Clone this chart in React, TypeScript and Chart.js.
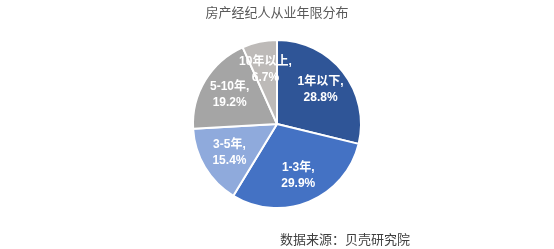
import React, { useEffect, useRef } from "react";
import { Chart, registerables } from "chart.js";

Chart.register(...registerables);

const categories = ["1年以下", "1-3年", "3-5年", "5-10年", "10年以上"];
const values = [28.8, 29.9, 15.4, 19.2, 6.7];
const colors = ["#2F5597", "#4472C4", "#8FAADC", "#A5A5A5", "#BDBAB8"];
const titleText = "房产经纪人从业年限分布";
const sourceText = "数据来源：贝壳研究院";

const FONT = "'Liberation Sans', 'Noto Sans CJK SC', sans-serif";

const textPlugin = {
  id: "textPlugin",
  afterDraw(chart: any) {
    const ctx = chart.ctx as CanvasRenderingContext2D;
    ctx.save();
    // title
    ctx.fillStyle = "#595959";
    ctx.font = `13px ${FONT}`;
    ctx.textAlign = "center";
    ctx.textBaseline = "middle";
    ctx.fillText(titleText, 277, 13);
    // source
    ctx.fillStyle = "#404040";
    ctx.font = `13px ${FONT}`;
    ctx.textAlign = "left";
    ctx.fillText(sourceText, 280, 240);
    // labels
    const meta = chart.getDatasetMeta(0);
    meta.data.forEach((arc: any, i: number) => {
      const { x, y, startAngle, endAngle, outerRadius } = arc.getProps(
        ["x", "y", "startAngle", "endAngle", "outerRadius"],
        true
      );
      const mid = (startAngle + endAngle) / 2;
      const r = outerRadius * 0.66;
      const lx = x + Math.cos(mid) * r;
      const ly = y + Math.sin(mid) * r;
      ctx.fillStyle = "#FFFFFF";
      ctx.font = `bold 12px ${FONT}`;
      ctx.textAlign = "center";
      ctx.textBaseline = "middle";
      ctx.fillText(categories[i] + ",", lx, ly - 8);
      ctx.fillText(values[i].toFixed(1) + "%", lx, ly + 8);
    });
    ctx.restore();
  },
};

export default function App() {
  const ref = useRef<HTMLCanvasElement>(null);
  useEffect(() => {
    document.body.style.margin = "0";
    const chart = new Chart(ref.current!, {
      type: "pie",
      data: {
        labels: categories,
        datasets: [
          {
            data: values,
            backgroundColor: colors,
            borderColor: "#FFFFFF",
            borderWidth: 2,
          },
        ],
      },
      options: {
        responsive: false,
        animation: false,
        layout: { padding: { top: 39, bottom: 40, left: 192, right: 192 } },
        plugins: {
          legend: { display: false },
          tooltip: { enabled: false },
          title: { display: false },
        },
      },
      plugins: [textPlugin],
    });
    return () => chart.destroy();
  }, []);
  return (
    <div style={{ position: "absolute", left: 0, top: 0, width: 554, height: 249, background: "#fff" }}>
      <canvas ref={ref} width={554} height={249} />
    </div>
  );
}
